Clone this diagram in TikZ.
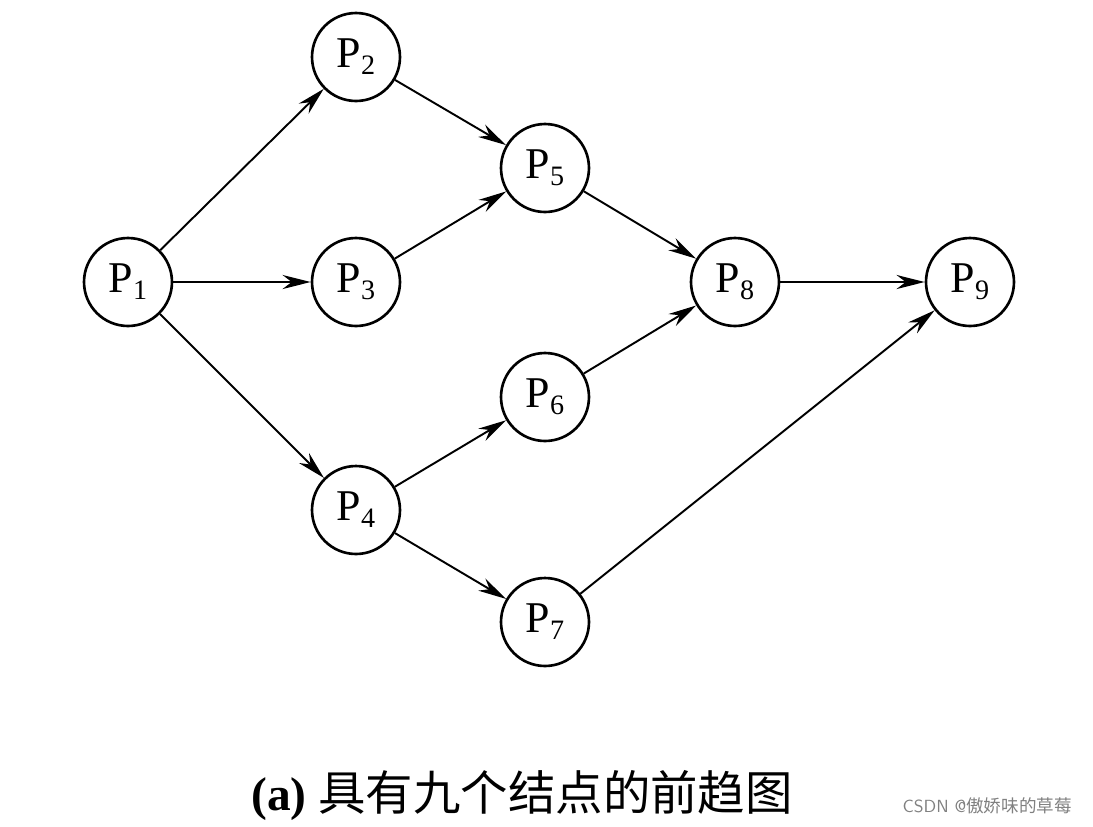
\documentclass[tikz,border=0pt]{standalone}
\usepackage{fontspec}
\setmainfont{Liberation Serif}
\newfontfamily\cjk{Noto Sans CJK SC}
\usetikzlibrary{arrows.meta}
\begin{document}
\begin{tikzpicture}[x=0.02cm,y=-0.02cm,
  pn/.style={circle,draw,line width=1.5pt,minimum size=1.76cm,inner sep=0pt,font=\fontsize{25}{28}\selectfont},
  ar/.style={line width=1.1pt,-{Stealth[length=16pt,width=8pt]}}]
\useasboundingbox (0,0) rectangle (1093,826);
\node[pn] (p1) at (128,282) {P\raisebox{-0.35ex}{\fontsize{16}{18}\selectfont 1}};
\node[pn] (p2) at (356,57) {P\raisebox{-0.35ex}{\fontsize{16}{18}\selectfont 2}};
\node[pn] (p3) at (356,282) {P\raisebox{-0.35ex}{\fontsize{16}{18}\selectfont 3}};
\node[pn] (p4) at (356,510) {P\raisebox{-0.35ex}{\fontsize{16}{18}\selectfont 4}};
\node[pn] (p5) at (545,168) {P\raisebox{-0.35ex}{\fontsize{16}{18}\selectfont 5}};
\node[pn] (p6) at (545,397) {P\raisebox{-0.35ex}{\fontsize{16}{18}\selectfont 6}};
\node[pn] (p7) at (545,622) {P\raisebox{-0.35ex}{\fontsize{16}{18}\selectfont 7}};
\node[pn] (p8) at (735,282) {P\raisebox{-0.35ex}{\fontsize{16}{18}\selectfont 8}};
\node[pn] (p9) at (970,282) {P\raisebox{-0.35ex}{\fontsize{16}{18}\selectfont 9}};
\draw[ar] (p1) -- (p2);
\draw[ar] (p1) -- (p3);
\draw[ar] (p1) -- (p4);
\draw[ar] (p2) -- (p5);
\draw[ar] (p3) -- (p5);
\draw[ar] (p4) -- (p6);
\draw[ar] (p4) -- (p7);
\draw[ar] (p5) -- (p8);
\draw[ar] (p6) -- (p8);
\draw[ar] (p8) -- (p9);
\draw[ar] (p7) -- (p9);
\node (cap) at (522,795) {\fontsize{27}{30}\selectfont\textbf{(a)} {\cjk 具有九个结点的前趋图}};
\node[text=gray,anchor=east] (wm) at (1078,806) {\fontsize{10}{12}\selectfont\sffamily CSDN @{\cjk 傲娇味的草莓}};
\end{tikzpicture}
\end{document}
